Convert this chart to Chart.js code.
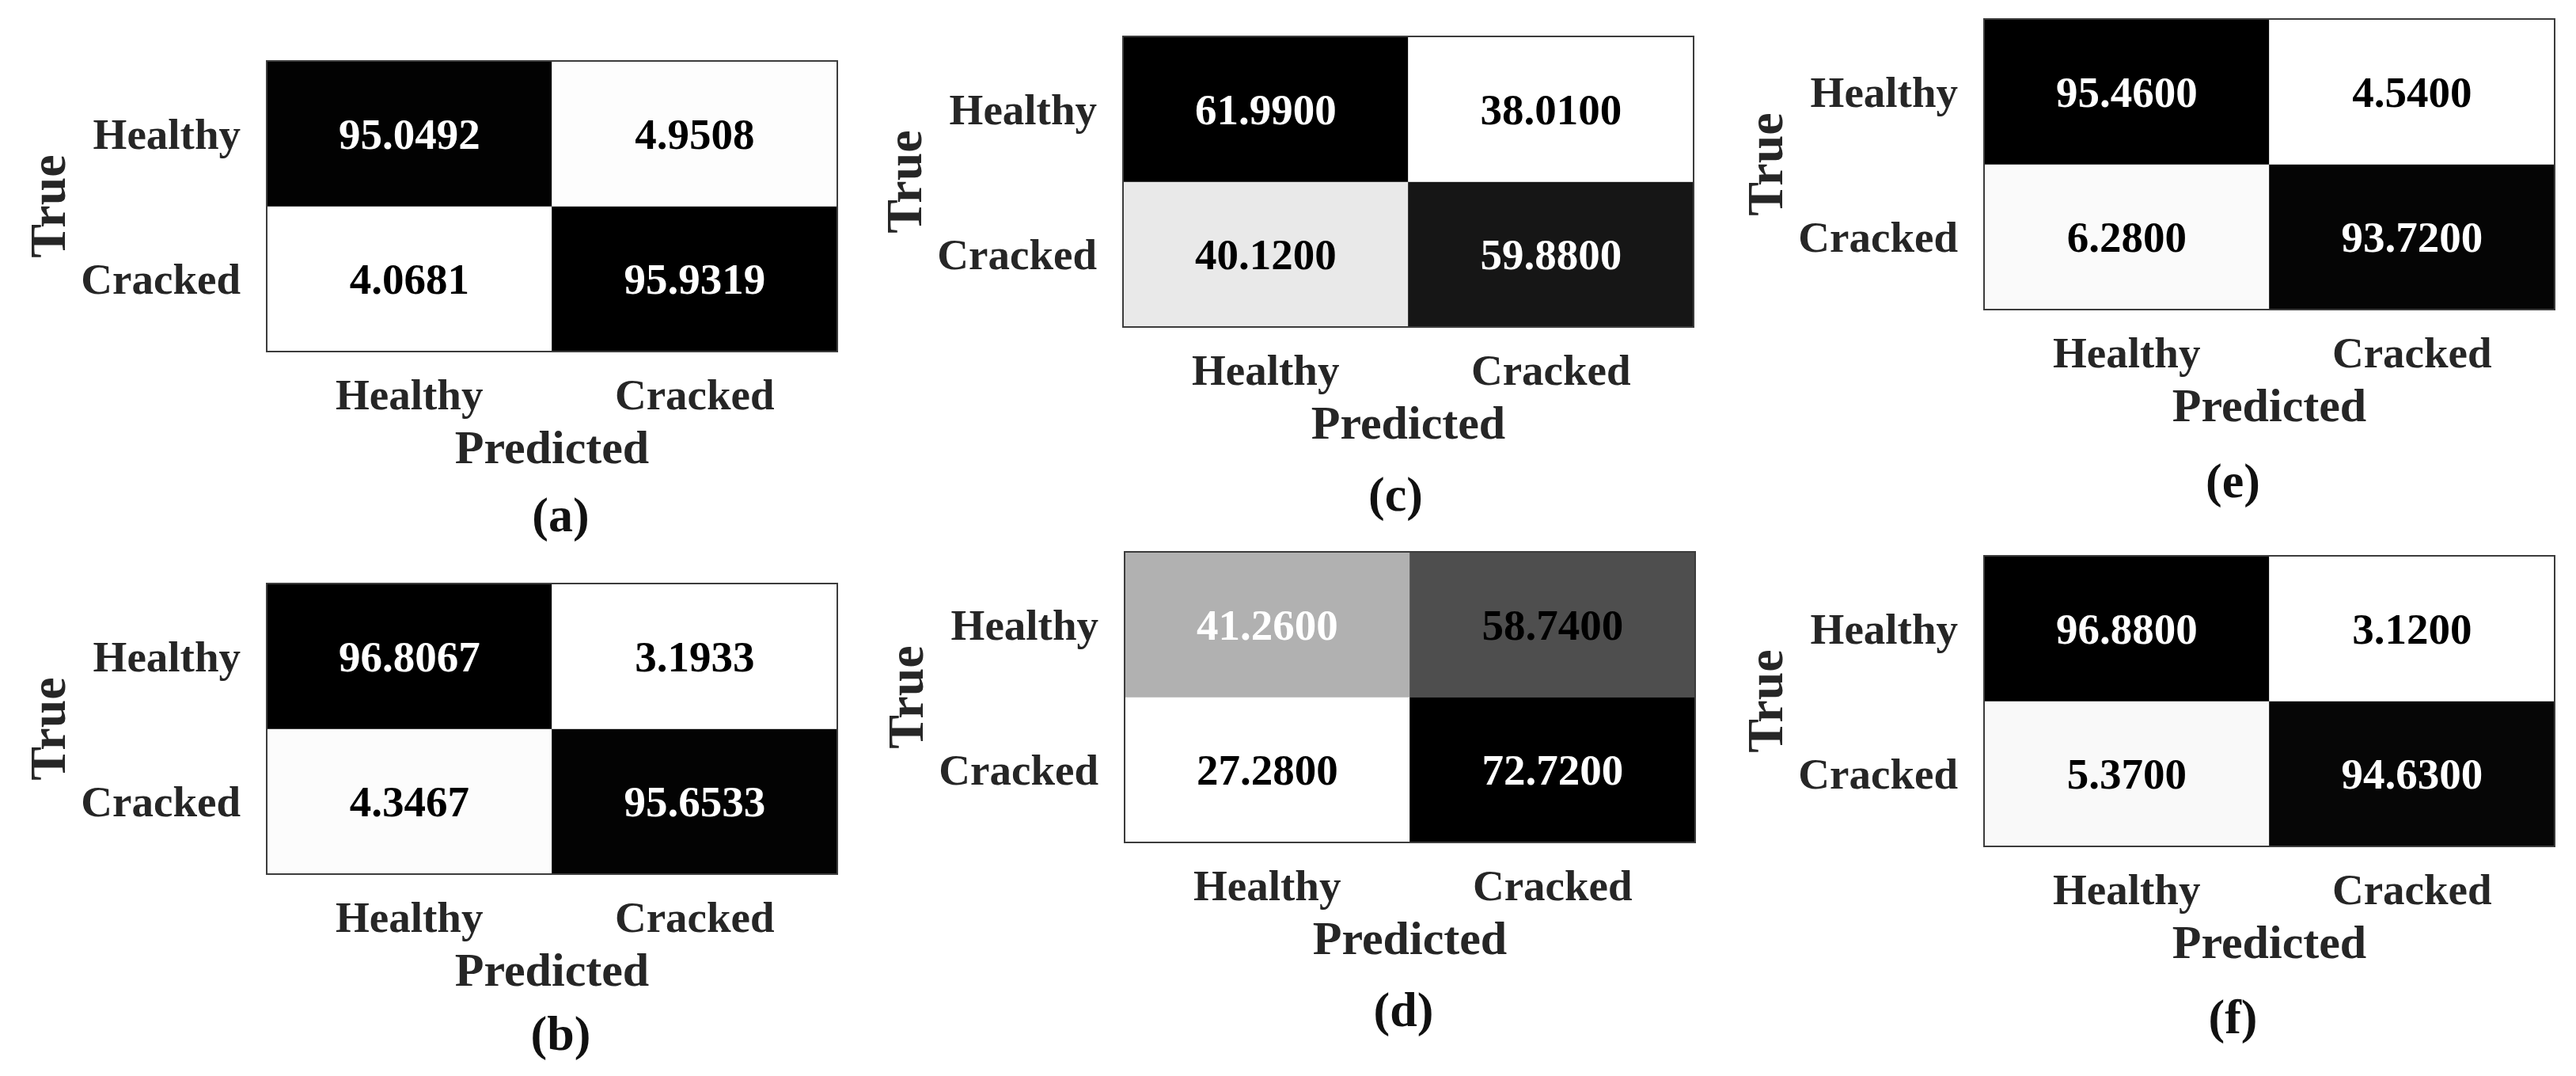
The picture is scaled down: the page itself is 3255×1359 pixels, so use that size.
<!DOCTYPE html>
<html>
<head>
<meta charset="utf-8">
<title>Matrices de confusión</title>
<script src="https://cdn.jsdelivr.net/npm/chart.js@4.4.1/dist/chart.umd.min.js"></script>
<style>
    html, body { margin: 0; padding: 0; background: #ffffff; }
    body { width: 3255px; height: 1359px; position: relative; overflow: hidden; }
    canvas { position: absolute; }
</style>
</head>
<body>
<canvas id="cm-a"></canvas>
<canvas id="cm-b"></canvas>
<canvas id="cm-c"></canvas>
<canvas id="cm-d"></canvas>
<canvas id="cm-e"></canvas>
<canvas id="cm-f"></canvas>
<script>
// 1. Datos (filas = clase real, columnas = clase predicha)
const clasesReal = ['Healthy', 'Cracked'];
const clasesPred = ['Healthy', 'Cracked'];

const valoresA = [[95.0492, 4.9508], [4.0681, 95.9319]];
const valoresB = [[96.8067, 3.1933], [4.3467, 95.6533]];
const valoresC = [[61.9900, 38.0100], [40.1200, 59.8800]];
const valoresD = [[41.2600, 58.7400], [27.2800, 72.7200]];
const valoresE = [[95.4600, 4.5400], [6.2800, 93.7200]];
const valoresF = [[96.8800, 3.1200], [5.3700, 94.6300]];

// 2. Estilo y posiciones
const FUENTE = '"Liberation Serif", "Times New Roman", serif';
const GRIS_TEXTO = '#262626';
const IZQ = 330, ARRIBA = 20, DER = 20, EJE_X = 161, ABAJO = 89;
const ANCHO = 721, ALTO = 367;
const BAJAR_TEXTO = 5;   // ajuste vertical de los textos centrados

const paneles = [
    { letra: 'a', valores: valoresA, x: 337, y: 77, dx: 11, dy: -4 },
    { letra: 'b', valores: valoresB, x: 337, y: 737, dx: 11, dy: -9 },
    { letra: 'c', valores: valoresC, x: 1419, y: 46, dx: -16, dy: 1 },
    { letra: 'd', valores: valoresD, x: 1421, y: 697, dx: -8, dy: 1 },
    { letra: 'e', valores: valoresE, x: 2507, y: 24, dx: -46, dy: 6 },
    { letra: 'f', valores: valoresF, x: 2507, y: 702, dx: -46, dy: 5 }
];

// escala de grises min-max por panel: valor alto = negro
function colorCelda(v, min, max) {
    const g = Math.round(255 * (1 - (v - min) / (max - min)));
    return `rgb(${g},${g},${g})`;
}

// 3. Plugin: números en las celdas, marco y rótulo (a)...(f)
const pluginCeldas = {
    id: 'celdas',
    afterDatasetsDraw(chart, args, opts) {
        const { ctx, chartArea } = chart;
        ctx.save();
        ctx.font = 'bold 55px ' + FUENTE;
        ctx.textAlign = 'center';
        ctx.textBaseline = 'middle';
        chart.data.datasets.forEach((ds, fila) => {
            chart.getDatasetMeta(fila).data.forEach((barra, col) => {
                const p = barra.getProps(['x', 'y', 'base'], true);
                ctx.fillStyle = fila === col ? '#ffffff' : '#000000';
                ctx.fillText(opts.valores[fila][col].toFixed(4), p.x, (p.y + p.base) / 2 + BAJAR_TEXTO);
            });
        });
        ctx.strokeStyle = '#3c3c3c';
        ctx.lineWidth = 2;
        ctx.strokeRect(chartArea.left, chartArea.top, chartArea.width, chartArea.height);

        ctx.fillStyle = '#111111';
        ctx.font = 'bold 62px ' + FUENTE;
        ctx.textBaseline = 'alphabetic';
        ctx.fillText('(' + opts.letra + ')', (chartArea.left + chartArea.right) / 2 + opts.dx,
            chartArea.bottom + 231 + opts.dy);
        ctx.restore();
    }
};

function crearPanel(p) {
    const canvas = document.getElementById('cm-' + p.letra);
    canvas.width = IZQ + ANCHO + DER;
    canvas.height = ARRIBA + ALTO + EJE_X + ABAJO;
    canvas.style.left = (p.x - IZQ) + 'px';
    canvas.style.top = (p.y - ARRIBA) + 'px';

    const todos = p.valores.flat();
    const min = Math.min(...todos), max = Math.max(...todos);
    const n = clasesReal.length;

    const datasets = clasesReal.map((real, fila) => ({
        label: real,
        data: clasesPred.map(() => [n - 1 - fila, n - fila]),
        backgroundColor: p.valores[fila].map(v => colorCelda(v, min, max)),
        borderWidth: 0,
        barPercentage: 1,
        categoryPercentage: 1,
        grouped: false
    }));

    new Chart(canvas, {
        type: 'bar',
        data: { labels: clasesPred, datasets: datasets },
        plugins: [pluginCeldas],
        options: {
            responsive: false,
            animation: false,
            devicePixelRatio: 1,
            layout: { padding: { top: ARRIBA, right: DER, bottom: ABAJO, left: 0 } },
            plugins: {
                legend: { display: false },
                tooltip: { enabled: false },
                celdas: { valores: p.valores, letra: p.letra, dx: p.dx, dy: p.dy }
            },
            scales: {
                x: {
                    type: 'category',
                    offset: true,
                    grid: { display: false },
                    border: { display: false },
                    ticks: { color: GRIS_TEXTO, padding: 18, font: { family: FUENTE, size: 55, weight: 'bold' } },
                    title: {
                        display: true, text: 'Predicted', color: GRIS_TEXTO, padding: 0,
                        font: { family: FUENTE, size: 60, weight: 'bold' }
                    },
                    afterFit: s => { s.height = EJE_X; s.paddingLeft = 0; s.paddingRight = 0; }
                },
                y: { display: false, min: 0, max: n },
                yCat: {
                    type: 'category',
                    position: 'left',
                    labels: clasesReal,
                    offset: true,
                    grid: { display: false },
                    border: { display: false },
                    ticks: {
                        color: GRIS_TEXTO, padding: 25, labelOffset: BAJAR_TEXTO,
                        font: { family: FUENTE, size: 55, weight: 'bold' }
                    },
                    title: {
                        display: true, text: 'True', color: GRIS_TEXTO, padding: { top: 20, bottom: 0 },
                        font: { family: FUENTE, size: 64, weight: 'bold' }
                    },
                    afterFit: s => { s.width = IZQ; s.paddingTop = 0; s.paddingBottom = 0; }
                }
            }
        }
    });
}

// 4. Inicialización
window.onload = function () {
    paneles.forEach(crearPanel);
};
</script>
</body>
</html>
